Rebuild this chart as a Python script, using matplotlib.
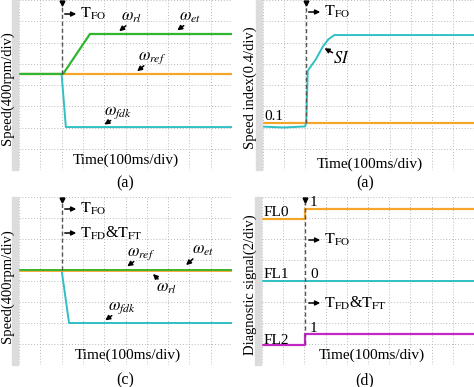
import matplotlib
matplotlib.use("Agg")
import matplotlib.pyplot as plt
from matplotlib.patches import Rectangle

plt.rcParams["font.family"] = ["Liberation Serif", "DejaVu Serif"]
plt.rcParams["mathtext.fontset"] = "stix"

W, H = 474, 387

GREEN = "#2fb52f"
ORANGE = "#f5a52a"
CYAN = "#2ec0c4"
MAGENTA = "#c326c3"

# time in divisions (100 ms/div), amplitude in divisions
T_FO = 2.0

# (a) speed, fault at T_FO
ta_rl = [0, 2.07, 3.33, 10]
ya_rl = [4.52, 4.52, 6.4, 6.4]
ta_ref = [0, 10]
ya_ref = [4.52, 4.52]
ta_fdk = [0, 2.0, 2.2, 10]
ya_fdk = [4.52, 4.52, 2.02, 2.02]

# (a) speed index
tb_si = [0, 1.0, 2.0, 2.05, 2.12, 2.5, 2.83, 3.1, 3.38, 10]
yb_si = [2.04, 2.0, 2.05, 2.3, 4.67, 5.2, 5.8, 6.15, 6.35, 6.35]
tb_th = [0, 10]
yb_th = [2.23, 2.23]

# (c) speed with fault tolerance
tc_rl = [0, 10]
yc_rl = [4.52, 4.52]
tc_fdk = [0, 2.0, 2.35, 10]
yc_fdk = [4.52, 4.52, 2.0, 2.0]

# (d) diagnostic flags
td_fl0 = [0, 2.03, 2.03, 10]
yd_fl0 = [6.94, 6.94, 7.43, 7.43]
td_fl1 = [0, 10]
yd_fl1 = [4.0, 4.0]
td_fl2 = [0, 2.03, 2.03, 10]
yd_fl2 = [0.95, 0.95, 1.46, 1.46]

TFO_LABEL = r"$\mathrm{T}_{\mathrm{FO}}$"
TFD_LABEL = r"$\mathrm{T}_{\mathrm{FD}}$&$\mathrm{T}_{\mathrm{FT}}$"


def box(x0, y0, x1, y1):
    return [x0 / W, 1 - y1 / H, (x1 - x0) / W, (y1 - y0) / H]


def fp(x, y):
    return (x / W, 1 - y / H)


def scope_axes(fig, x0, y0, x1, y1):
    fig.patches.append(Rectangle(fp(x0 - 7, y1), 6 / W, (y1 - y0) / H,
                                 transform=fig.transFigure, color="#dcdcdc", zorder=0))
    ax = fig.add_axes(box(x0, y0, x1, y1))
    ax.set_xlim(0, 10)
    ax.set_ylim(0, 8)
    ax.set_xticks(range(11))
    ax.set_yticks(range(9))
    ax.grid(True, ls=(0, (1, 2)), color="#b8b8b8", lw=0.7)
    ax.tick_params(length=0, labelbottom=False, labelleft=False)
    for s in ax.spines.values():
        s.set_visible(False)
    return ax


def fo_marker(ax, t, ybot):
    ax.vlines(t, ybot, 8, colors="#555555", linestyles=(0, (3, 2)), lw=1)
    ax.plot(t, 7.85, marker="v", ms=3.5, color="black", clip_on=False)


def arr(fig, start, end):
    fig.add_artist(matplotlib.patches.FancyArrowPatch(
        fp(*start), fp(*end), transform=fig.transFigure,
        arrowstyle="-|>", mutation_scale=7, lw=1.1, color="black"))


def arrow_text(fig, x, y, label, length=17, size=11.5):
    arr(fig, (x, y), (x + length, y))
    fig.text(*fp(x + length + 1, y), label, fontsize=size, va="center", ha="left")


def label(fig, text, xy, size=11):
    fig.text(*fp(*xy), text, fontsize=size, ha="center", va="center")


def ylab(fig, text, xy):
    fig.text(*fp(*xy), text, fontsize=10.5, rotation=90, ha="center", va="center")


fig = plt.figure(figsize=(W / 100, H / 100), dpi=100)

# ---- (a) top-left ----
ax = scope_axes(fig, 19, 0, 232, 170)
ax.plot(ta_ref, ya_ref, color=ORANGE, lw=1.6)
ax.plot(ta_fdk, ya_fdk, color=CYAN, lw=1.4)
ax.plot(ta_rl, ya_rl, color=GREEN, lw=1.6)
fo_marker(ax, T_FO, 4.52)
arrow_text(fig, 62, 14, TFO_LABEL)
label(fig, r"$\omega_{rl}$", (132, 17), 12)
arr(fig, (128, 24), (117, 33))
label(fig, r"$\omega_{et}$", (190, 17), 12)
arr(fig, (186, 24), (175, 32))
label(fig, r"$\omega_{ref}$", (152, 58), 12)
arr(fig, (146, 64), (135, 73))
label(fig, r"$\omega_{fdk}$", (118, 113), 12)
arr(fig, (113, 119), (102, 126))
label(fig, "Time(100ms/div)", (126, 160))
ylab(fig, "Speed(400rpm/div)", (7, 88))
label(fig, "(a)", (125, 183), 11.5)

# ---- (a) top-right, speed index ----
ax = scope_axes(fig, 263, 0, 474, 170)
ax.plot(tb_th, yb_th, color=ORANGE, lw=1.6)
ax.plot(tb_si, yb_si, color=CYAN, lw=1.4)
fo_marker(ax, 2.03, 2.23)
arrow_text(fig, 306, 12, TFO_LABEL)
label(fig, r"$SI$", (341, 59), 12)
arr(fig, (335, 54), (322, 47))
fig.text(*fp(264, 117), "0.1", fontsize=11, ha="left", va="center")
label(fig, "Time(100ms/div)", (370, 164))
ylab(fig, "Speed index(0.4/div)", (250, 88))
label(fig, "(a)", (365, 183), 11.5)

# ---- (c) bottom-left ----
ax = scope_axes(fig, 19, 197, 232, 365)
ax.plot(tc_fdk, yc_fdk, color=CYAN, lw=1.4)
ax.plot(tc_rl, yc_rl, color=ORANGE, lw=2.0)
ax.plot(tc_rl, yc_rl, color=GREEN, lw=1.3)
fo_marker(ax, T_FO, 4.52)
arrow_text(fig, 62, 209, TFO_LABEL)
arrow_text(fig, 62, 233, TFD_LABEL)
label(fig, r"$\omega_{ref}$", (141, 254), 12)
arr(fig, (136, 260), (125, 268))
label(fig, r"$\omega_{et}$", (203, 250), 12)
arr(fig, (195, 257), (184, 267))
label(fig, r"$\omega_{rl}$", (167, 288), 12)
arr(fig, (160, 281), (151, 272))
label(fig, r"$\omega_{fdk}$", (122, 308), 12)
arr(fig, (114, 314), (103, 322))
label(fig, "Time(100ms/div)", (128, 355))
ylab(fig, "Speed(400rpm/div)", (7, 286))
label(fig, "(c)", (125, 380), 11.5)

# ---- (d) bottom-right ----
ax = scope_axes(fig, 262, 197, 474, 365)
ax.plot(td_fl0, yd_fl0, color=ORANGE, lw=1.6)
ax.plot(td_fl1, yd_fl1, color=CYAN, lw=1.4)
ax.plot(td_fl2, yd_fl2, color=MAGENTA, lw=1.6)
fo_marker(ax, 2.03, 1.0)
fig.text(*fp(264, 213), "FL0", fontsize=11, ha="left", va="center")
fig.text(*fp(310, 203), "1", fontsize=11, ha="left", va="center")
arrow_text(fig, 306, 240, TFO_LABEL)
fig.text(*fp(264, 274), "FL1", fontsize=11, ha="left", va="center")
fig.text(*fp(310, 275), "0", fontsize=11, ha="left", va="center")
arrow_text(fig, 306, 303, TFD_LABEL)
fig.text(*fp(264, 340), "FL2", fontsize=11, ha="left", va="center")
fig.text(*fp(310, 328), "1", fontsize=11, ha="left", va="center")
label(fig, "Time(100ms/div)", (372, 355))
ylab(fig, "Diagnostic signal(2/div)", (250, 285))
label(fig, "(d)", (365, 380), 11.5)

fig.savefig("out.png", dpi=100)
